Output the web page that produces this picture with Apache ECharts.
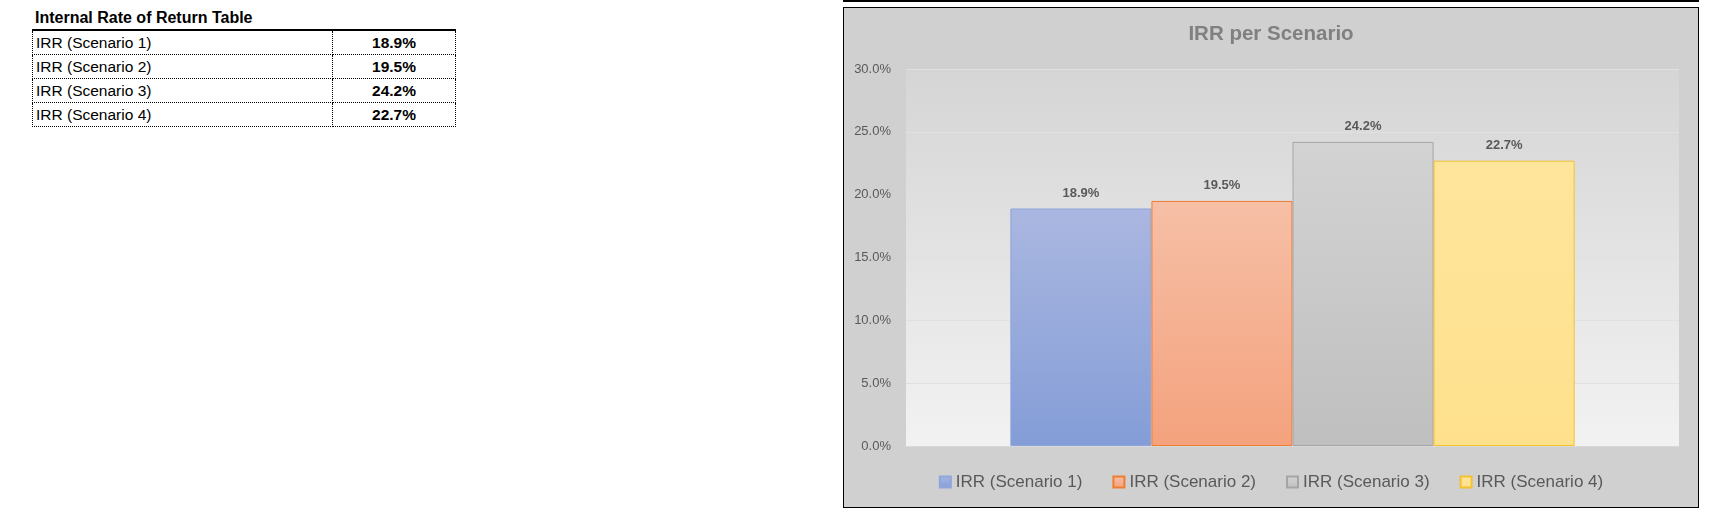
<!DOCTYPE html>
<html lang="en">
<head>
    <meta charset="UTF-8">
    <title>IRR per Scenario</title>
    <script type="text/javascript" src="https://cdn.jsdelivr.net/npm/echarts@6/dist/echarts.min.js"></script>
    <style>
        html, body { margin: 0; padding: 0; background: #fff; }
        body { width: 1713px; height: 517px; position: relative; overflow: hidden; font-family: 'Liberation Sans', sans-serif; }
        #tblTitle { position: absolute; left: 35px; top: 9px; font-size: 16px; font-weight: bold; color: #000; }
        #irrTable { position: absolute; left: 32px; top: 29px; border-collapse: collapse; border-top: 2px solid #000; font-size: 15.5px; color: #000; }
        #irrTable td { border: 1px dotted #000; height: 23px; padding: 0 3px; }
        #irrTable td.name { width: 293px; }
        #irrTable td.val { width: 116px; text-align: center; font-weight: bold; }
        #topLine { position: absolute; left: 843px; top: -6px; width: 854px; height: 6px; border: 1px solid #000; border-top: none; border-bottom-width: 2px; }
        #topSep { position: absolute; left: 1092px; top: 0px; width: 1px; height: 2px; background: #000; }
        #main { position: absolute; left: 843px; top: 7px; width: 856px; height: 501px; box-sizing: border-box; border: 1px solid #000; }
    </style>
</head>
<body>

    <div id="tblTitle">Internal Rate of Return Table</div>
    <table id="irrTable"></table>
    <div id="topLine"></div>
    <div id="topSep"></div>
    <div id="main"></div>

    <script type="text/javascript">
        // data
        var scenarios = ['IRR (Scenario 1)', 'IRR (Scenario 2)', 'IRR (Scenario 3)', 'IRR (Scenario 4)'];
        var irrValues = [18.9, 19.5, 24.2, 22.7];
        var yTicks = [0, 5, 10, 15, 20, 25, 30];

        // colours for each bar: top of gradient, bottom of gradient, border
        var barTop = ['#aab7e0', '#f6bfa6', '#d3d3d3', '#fee59c'];
        var barBottom = ['#849dd7', '#f4a27d', '#bfbfbf', '#ffe18d'];
        var barBorder = ['#8fa5db', '#ed7d31', '#a5a5a5', '#f2c230'];

        function pct(v) {
            return v.toFixed(1) + '%';
        }

        // the little table on the left
        var tbl = document.getElementById('irrTable');
        var html = '';
        for (var i = 0; i < scenarios.length; i++) {
            html += '<tr><td class="name">' + scenarios[i] + '</td><td class="val">' + pct(irrValues[i]) + '</td></tr>';
        }
        tbl.innerHTML = html;

        var myChart = echarts.init(document.getElementById('main'));

        var series = [];
        for (var k = 0; k < scenarios.length; k++) {
            series.push({
                name: scenarios[k],
                type: 'bar',
                barGap: '0%',
                barCategoryGap: '27%',
                data: [irrValues[k]],
                itemStyle: {
                    color: {
                        type: 'linear', x: 0, y: 0, x2: 0, y2: 1,
                        colorStops: [
                            { offset: 0, color: barTop[k] },
                            { offset: 1, color: barBottom[k] }
                        ]
                    },
                    borderColor: barBorder[k],
                    borderWidth: 1
                },
                label: {
                    show: true,
                    position: 'top',
                    distance: 9,
                    formatter: function (p) { return pct(p.value); },
                    color: '#595959',
                    fontSize: 13,
                    fontWeight: 'bold',
                    fontFamily: 'Liberation Sans'
                }
            });
        }

        var option = {
            backgroundColor: '#d0d0d0',
            animation: false,
            title: {
                text: 'IRR per Scenario',
                left: 'center',
                top: 16,
                padding: 0,
                textStyle: {
                    color: '#808080',
                    fontSize: 20.5,
                    fontWeight: 'bold',
                    fontFamily: 'Liberation Sans'
                }
            },
            legend: {
                data: scenarios,
                top: 464,
                left: 'center',
                padding: 0,
                icon: 'rect',
                itemWidth: 11,
                itemHeight: 11,
                itemGap: 30,
                textStyle: {
                    color: '#595959',
                    fontSize: 17,
                    lineHeight: 20,
                    fontFamily: 'Liberation Sans'
                }
            },
            grid: {
                left: 62,
                right: 19,
                top: 61,
                bottom: 61,
                show: true,
                borderWidth: 0,
                backgroundColor: {
                    type: 'linear', x: 0, y: 0, x2: 0, y2: 1,
                    colorStops: [
                        { offset: 0, color: '#d5d5d5' },
                        { offset: 1, color: '#f2f2f2' }
                    ]
                }
            },
            xAxis: {
                type: 'category',
                data: [''],
                axisLine: { lineStyle: { color: '#d9d9d9' } },
                axisTick: { show: false },
                axisLabel: { show: false }
            },
            yAxis: {
                type: 'value',
                min: yTicks[0],
                max: yTicks[yTicks.length - 1],
                interval: yTicks[1] - yTicks[0],
                axisLine: { show: false },
                axisTick: { show: false },
                splitLine: { lineStyle: { color: '#e0e0e0' } },
                axisLabel: {
                    formatter: function (v) { return pct(v); },
                    color: '#595959',
                    fontSize: 13,
                    margin: 15,
                    fontFamily: 'Liberation Sans'
                }
            },
            series: series
        };

        myChart.setOption(option);
    </script>

</body>
</html>
